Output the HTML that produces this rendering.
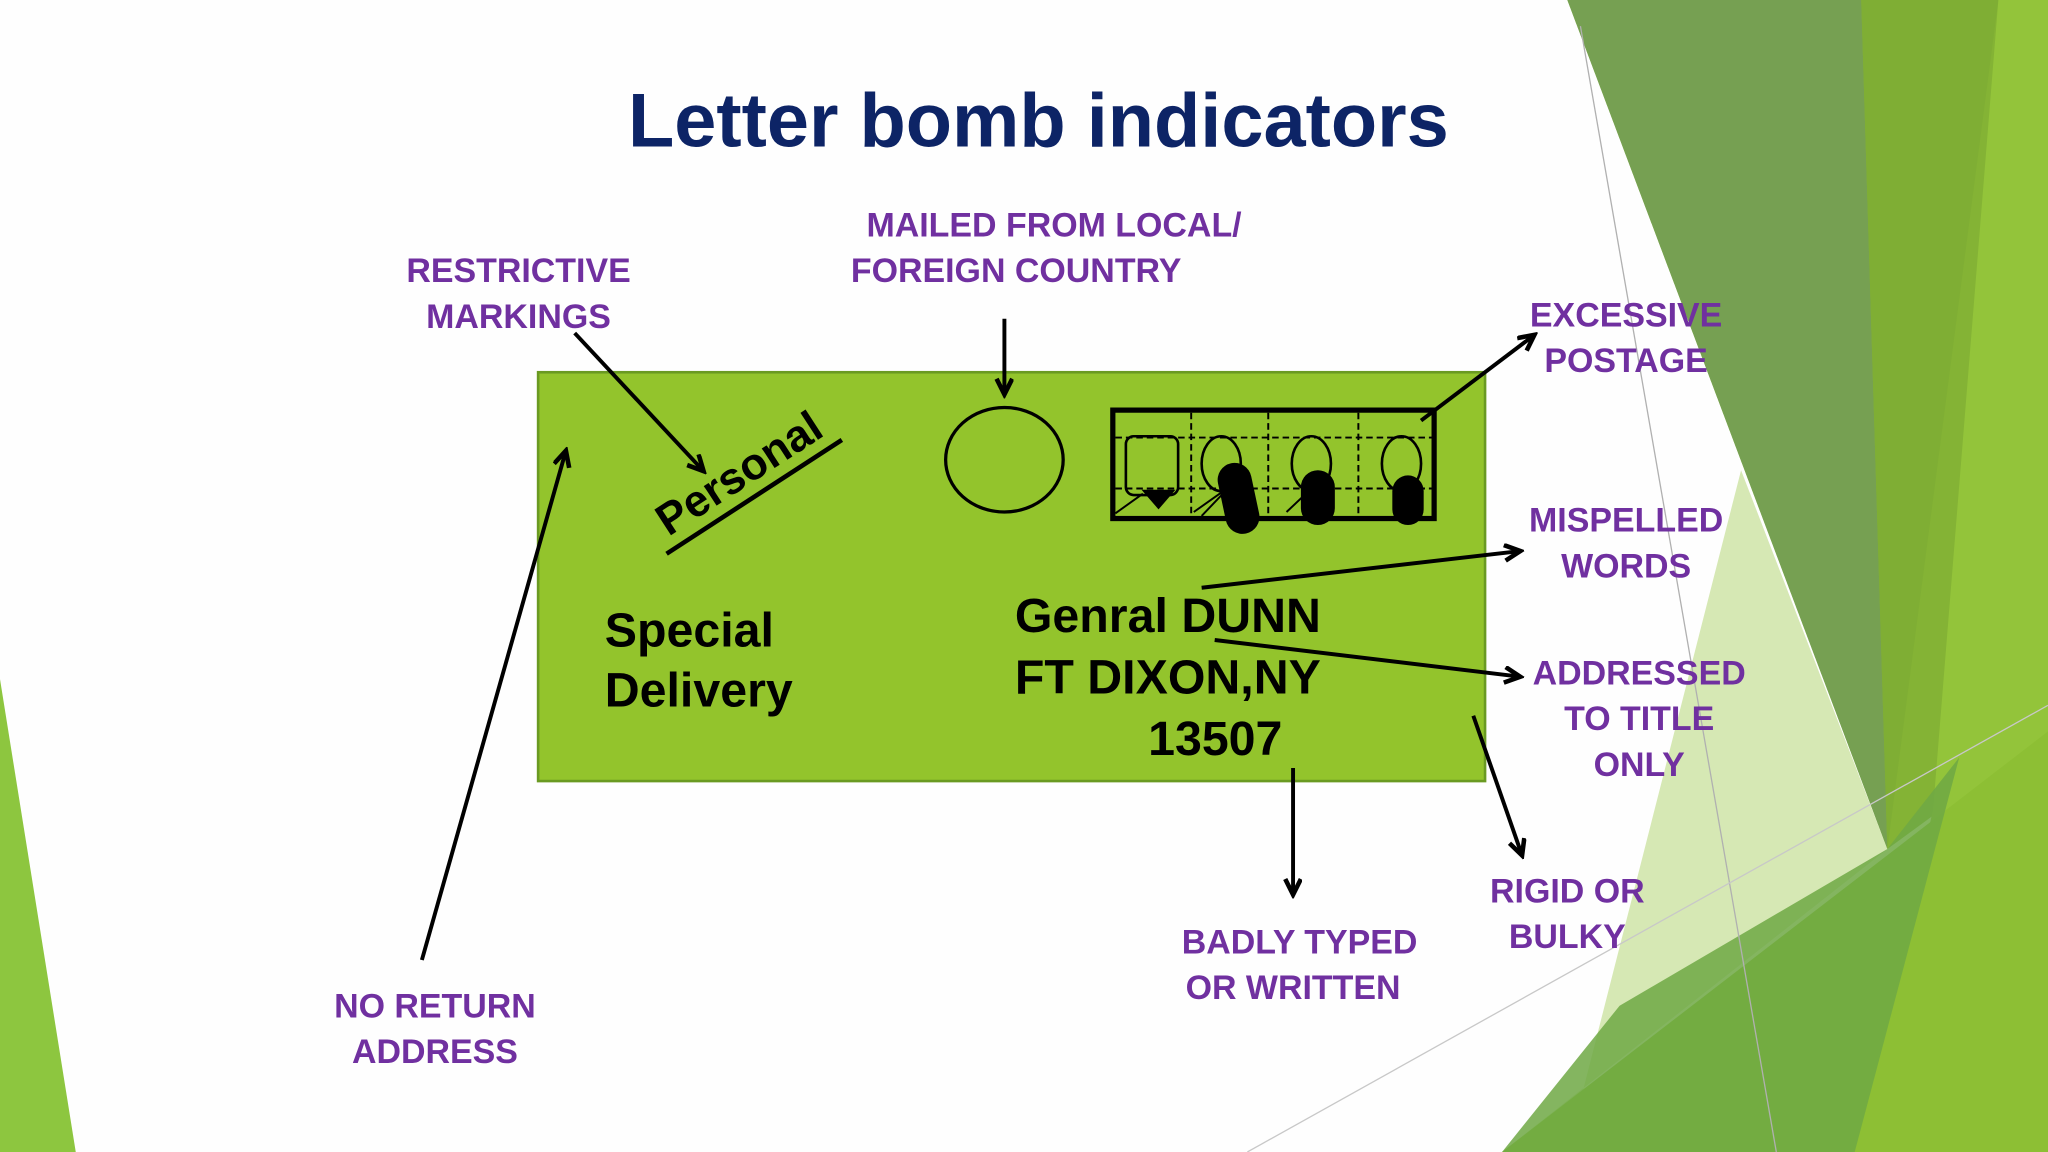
<!DOCTYPE html>
<html><head><meta charset="utf-8"><style>html,body{margin:0;padding:0;background:#fff}svg{display:block}</style></head>
<body>
<svg width="2048" height="1152" viewBox="0 0 1568 882" xmlns="http://www.w3.org/2000/svg">
<defs><marker id="ah" markerWidth="16" markerHeight="16" refX="12" refY="7" orient="auto" markerUnits="userSpaceOnUse"><path d="M1,1 L13,7 L1,13" fill="none" stroke="#000" stroke-width="3.5"/></marker></defs>
<rect width="1568" height="882" fill="#fefefe"/>
<!-- background shapes -->
<polygon points="0,520 0,882 58,882" fill="#8dc63f"/>
<polygon points="1333,360 1445,650 1150,882 1200,882" fill="#d6e8b4"/>
<polygon points="1200,0 1568,0 1568,560 1445,650" fill="#84b335"/>
<polygon points="1200,0 1425,0 1445,650" fill="#76a052"/>
<polygon points="1425,0 1530,0 1445,650" fill="#7fae34"/>
<polygon points="1530,0 1568,0 1568,882 1420,882 1480,620" fill="#93c43a"/>
<polygon points="1150,882 1568,560 1568,882" fill="#8dbf34"/>
<polygon points="1240,770 1445,650 1500,580 1420,882 1150,882" fill="#6fa844" opacity="0.85"/>
<line x1="1210" y1="20" x2="1360" y2="882" stroke="#b0b0b0" stroke-width="1"/>
<line x1="955" y1="882" x2="1568" y2="540" stroke="#c8c8c8" stroke-width="1"/>
<!-- title -->
<text x="795" y="112" text-anchor="middle" font-family="Liberation Sans, sans-serif" font-weight="bold" font-size="58" fill="#0d2466">Letter bomb indicators</text>
<!-- envelope -->
<rect x="412" y="285" width="725" height="313" fill="#93c42c" stroke="#6a9a22" stroke-width="2"/>
<ellipse cx="769" cy="352" rx="45" ry="40" fill="none" stroke="#000" stroke-width="2.5"/>
<rect x="852" y="314" width="246" height="83" fill="none" stroke="#000" stroke-width="4"/>
<g stroke="#000" stroke-width="1.5" stroke-dasharray="5,3"><line x1="912" y1="316" x2="912" y2="395"/><line x1="971" y1="316" x2="971" y2="395"/><line x1="1040" y1="316" x2="1040" y2="395"/><line x1="854" y1="335" x2="1096" y2="335"/><line x1="854" y1="374" x2="1096" y2="374"/></g>
<rect x="862" y="334" width="40" height="45" rx="6" fill="none" stroke="#000" stroke-width="2"/>
<polygon points="874,375 900,375 887,390" fill="#000"/>
<line x1="854" y1="393" x2="875" y2="378" stroke="#000" stroke-width="1.5"/>
<g fill="none" stroke="#000" stroke-width="2"><ellipse cx="935" cy="355" rx="15" ry="21"/><ellipse cx="1004" cy="355" rx="15" ry="21"/><ellipse cx="1073" cy="355" rx="15" ry="21"/></g>
<g fill="#000"><rect x="936" y="372" width="26" height="55" rx="13" transform="rotate(-12 949 385) translate(0 -18)"/><rect x="996" y="360" width="26" height="42" rx="13"/><rect x="1066" y="364" width="24" height="38" rx="12"/></g>
<g stroke="#000" stroke-width="1.5"><line x1="914" y1="392" x2="938" y2="375"/><line x1="920" y1="395" x2="942" y2="372"/><line x1="985" y1="392" x2="1003" y2="375"/></g>
<g transform="translate(572,372) rotate(-33)"><text x="0" y="0" text-anchor="middle" font-family="Liberation Sans, sans-serif" font-weight="bold" font-size="34" fill="#000">Personal</text><line x1="-80" y1="10" x2="80" y2="10" stroke="#000" stroke-width="3.5"/></g>
<g font-family="Liberation Sans, sans-serif" font-weight="bold" font-size="37" fill="#000"><text x="463" y="495">Special</text><text x="463" y="541">Delivery</text><text x="777" y="484">Genral DUNN</text><text x="777" y="531">FT DIXON,NY</text><text x="879" y="578">13507</text></g>
<!-- arrows -->
<g stroke="#000" stroke-width="3" marker-end="url(#ah)"><line x1="440" y1="255" x2="538" y2="360"/><line x1="769" y1="244" x2="769" y2="301"/><line x1="1088" y1="322" x2="1174" y2="257"/><line x1="920" y1="450" x2="1163" y2="422"/><line x1="930" y1="490" x2="1163" y2="518"/><line x1="1128" y1="548" x2="1165" y2="654"/><line x1="990" y1="588" x2="990" y2="684"/><line x1="323" y1="735" x2="433" y2="346"/></g>
<!-- labels -->
<g font-family="Liberation Sans, sans-serif" font-weight="bold" font-size="26" fill="#7030a0" text-anchor="middle">
<text x="397" y="216">RESTRICTIVE</text><text x="397" y="251">MARKINGS</text>
<text x="807" y="181">MAILED FROM  LOCAL/</text><text x="778" y="216">FOREIGN COUNTRY</text>
<text x="1245" y="250">EXCESSIVE</text><text x="1245" y="285">POSTAGE</text>
<text x="1245" y="407">MISPELLED</text><text x="1245" y="442">WORDS</text>
<text x="1255" y="524">ADDRESSED</text><text x="1255" y="559">TO TITLE</text><text x="1255" y="594">ONLY</text>
<text x="1200" y="691">RIGID OR</text><text x="1200" y="726">BULKY</text>
<text x="995" y="730">BADLY TYPED</text><text x="990" y="765">OR WRITTEN</text>
<text x="333" y="779">NO RETURN</text><text x="333" y="814">ADDRESS</text>
</g>
</svg>
</body></html>
